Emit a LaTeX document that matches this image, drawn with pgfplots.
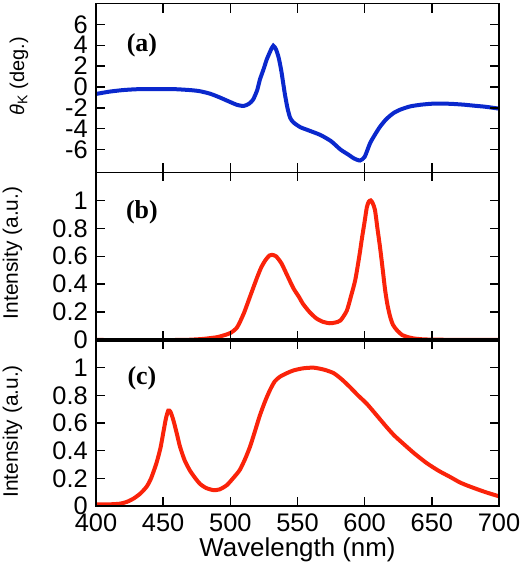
\documentclass[border=0pt]{standalone}
\usepackage{pgfplots}
\pgfplotsset{compat=1.18}
\usepackage{fontspec}
\setmainfont{Liberation Sans}
\newfontfamily\timesfont{Liberation Serif}
\definecolor{cblue}{RGB}{10,40,205}
\definecolor{cred}{RGB}{250,35,10}
\pgfplotsset{
  myax/.style={
    scale only axis, width=403bp,
    xmin=400, xmax=700, xtick={400,450,500,550,600,650,700},
    tick align=inside, tick pos=both, major tick length=9bp,
    axis line style={line width=1.6bp},
    every tick/.style={line width=1.4bp, black},
    axis on top,
    /pgf/number format/assume math mode=true,
    ticklabel style={font=\fontsize{25.5}{27}\selectfont, inner sep=0bp},
    yticklabel style={xshift=-8bp},
    xticklabel style={yshift=-8bp},
    label style={font=\fontsize{21}{25}\selectfont},
  },
}
\tikzset{plab/.style={font=\fontsize{26}{28}\selectfont\timesfont\bfseries}}
\begin{document}
\begin{tikzpicture}
\useasboundingbox (0,0) rectangle (520bp,572bp);
% (a)
\begin{axis}[myax, at={(96bp,399.5bp)}, anchor=south west, height=169bp,
  ymin=-8.2, ymax=8, ytick={-6,-4,-2,0,2,4,6}, xticklabels={},
  ylabel={\textit{θ}\textsubscript{K} (deg.)},
  ylabel style={at={(axis description cs:-0.191,0.57)}, anchor=center, font=\fontsize{20}{24}\selectfont}]
\addplot[cblue, line width=4bp, smooth, tension=0.4] coordinates {
(400,-0.67) (410,-0.45) (420,-0.3) (430,-0.22) (440,-0.2) (450,-0.2) (460,-0.22)
(470,-0.3) (477,-0.4) (485,-0.65) (492,-1.0) (500,-1.45) (505,-1.72) (510,-1.82)
(514,-1.6) (517,-1.2) (520,-0.3) (522,0.7) (525,1.8) (527,2.6) (530,3.5) (532,3.95)
(534,3.6) (536,2.8) (538,1.5) (540.5,-0.6) (542.5,-2.0) (544.5,-2.95) (547,-3.4)
(552,-3.85) (558,-4.15) (567,-4.6) (575,-5.2) (582,-6.0) (588,-6.5) (592,-6.85)
(596.5,-7.05) (600,-6.7) (604,-5.4) (608,-4.5) (611.5,-3.8) (616,-3.1) (621.5,-2.5)
(627,-2.15) (634,-1.86) (642,-1.7) (651,-1.6) (660,-1.6) (666,-1.63) (674,-1.7)
(681,-1.79) (690,-1.9) (700,-2.08)};
\node[plab] at (axis description cs:0.114,0.754) {(a)};
\end{axis}
% (b)
\begin{axis}[myax, at={(96bp,232bp)}, anchor=south west, height=167.5bp,
  ymin=0, ymax=1.2, ytick={0,0.2,0.4,0.6,0.8,1}, xticklabels={},
  extra y ticks={0}, extra y tick labels={},
  extra y tick style={grid=major, major grid style={line width=4.5bp, black}},
  ylabel={Intensity (a.u.)},
  ylabel style={at={(axis description cs:-0.207,0.52)}, anchor=center}]
\addplot[cred, line width=4bp, smooth, tension=0.4] coordinates {
(400,0) (460,0) (470,0.002) (480,0.008) (490,0.02) (495,0.033) (500,0.05) (505,0.09)
(510,0.19) (515,0.32) (520,0.45) (523,0.52) (526,0.57) (529,0.605) (531,0.61)
(534,0.6) (538,0.55) (542,0.47) (547,0.37) (551,0.31) (554,0.26) (559,0.2)
(564,0.155) (569,0.13) (574,0.12) (578,0.125) (582,0.14) (586.7,0.21) (590,0.32)
(593,0.43) (596,0.6) (598,0.73) (600,0.85) (601.6,0.95) (603,0.99) (604.5,1.0)
(606,0.98) (607.7,0.93) (609.5,0.8) (611.5,0.66) (613.5,0.5) (615.2,0.36) (617,0.25)
(619,0.166) (621,0.11) (624,0.07) (628,0.035) (631,0.024) (636,0.012) (643,0.005)
(655,0.002) (700,0)};
\node[plab] at (axis description cs:0.114,0.764) {(b)};
\end{axis}
% (c)
\begin{axis}[myax, at={(96bp,66bp)}, anchor=south west, height=166bp,
  ymin=0, ymax=1.2, ytick={0,0.2,0.4,0.6,0.8,1},
  ylabel={Intensity (a.u.)},
  ylabel style={at={(axis description cs:-0.207,0.45)}, anchor=center},
  xlabel={Wavelength (nm)},
  xlabel style={at={(axis description cs:0.5,0)}, anchor=base, yshift=-50.6bp, font=\fontsize{26}{30}\selectfont}]
\addplot[cred, line width=4bp, smooth, tension=0.4] coordinates {
(400,0.012) (410,0.012) (418,0.017) (423,0.03) (428,0.054) (433,0.09) (437.7,0.14)
(441,0.2) (445,0.31) (448,0.42) (450,0.525) (452,0.63) (453.8,0.69) (455.5,0.68)
(457.6,0.62) (460,0.53) (462.5,0.43) (466,0.33) (470,0.255) (474,0.2) (477.4,0.16)
(482,0.13) (487.3,0.115) (492,0.12) (497.3,0.15) (502,0.2) (507,0.26) (511,0.34)
(514.7,0.43) (518,0.53) (522,0.655) (526,0.76) (529.6,0.84) (533,0.9) (537,0.935)
(542,0.96) (547,0.98) (554,0.995) (562,1.0) (570,0.985) (577,0.96) (583,0.915)
(589,0.86) (595,0.8) (601.5,0.74) (609,0.655) (616.4,0.57) (622,0.51) (628.8,0.45)
(637,0.38) (646.2,0.31) (655,0.255) (663.6,0.21) (671,0.17) (678.5,0.14) (690,0.1)
(700,0.07)};
\node[plab] at (axis description cs:0.114,0.771) {(c)};
\end{axis}
\end{tikzpicture}
\end{document}
